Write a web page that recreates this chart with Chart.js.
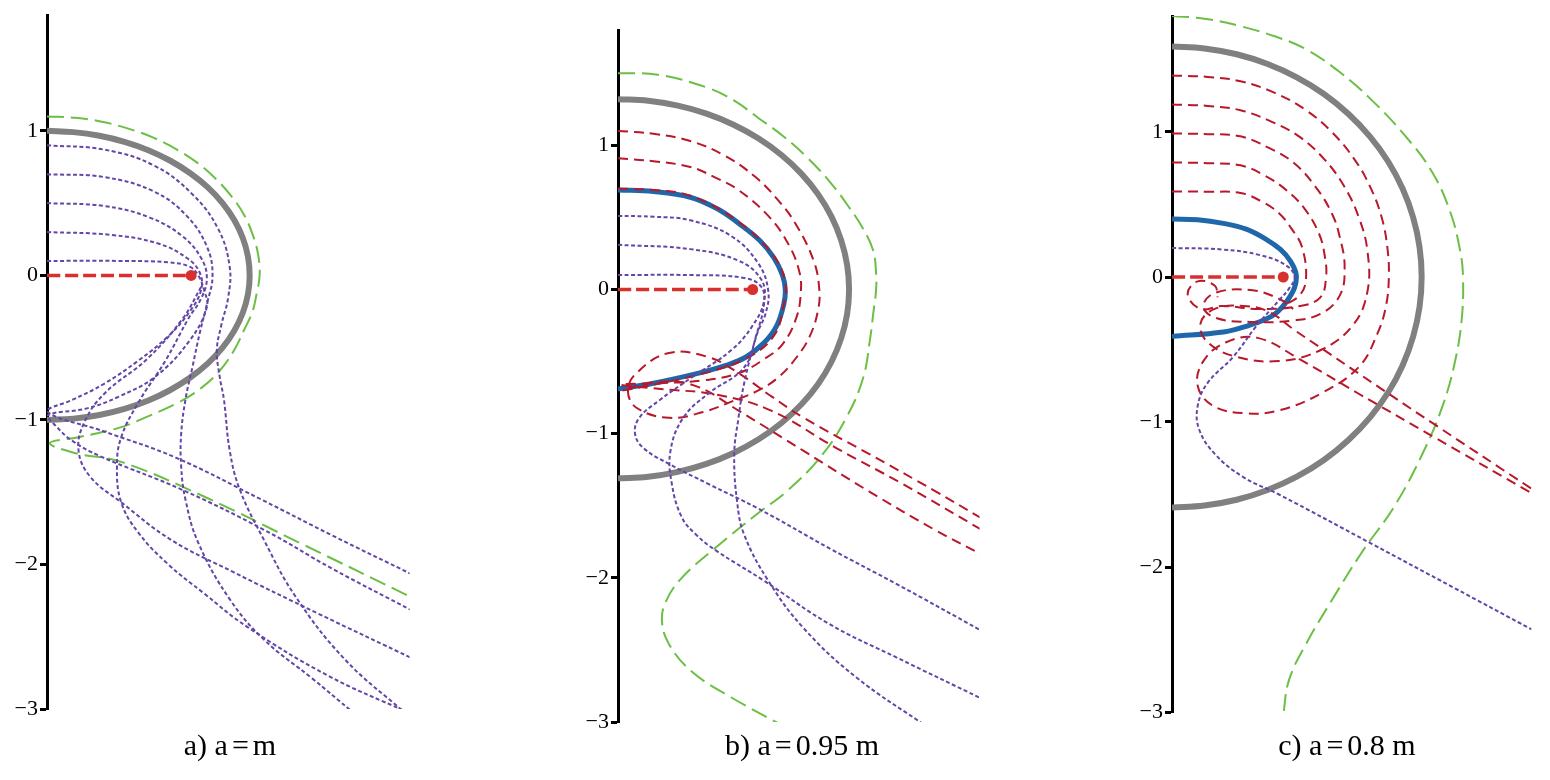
<!DOCTYPE html>
<html>
<head>
<meta charset="utf-8">
<script src="https://cdn.jsdelivr.net/npm/chart.js@4.4.1/dist/chart.umd.min.js"></script>
<style>
body { margin: 0; background: #fff; width: 1550px; height: 780px; position: relative; overflow: hidden; }
canvas { position: absolute; top: 0; }
.cap { position: absolute; top: 728px; font-family: "Liberation Serif", serif; font-size: 30px; color: #000; transform: translateX(-50%); white-space: nowrap; }
.cap .eq { margin: 0 4px; }
</style>
</head>
<body>
<canvas id="pa" width="415" height="740" style="left:0px"></canvas>
<canvas id="pb" width="414" height="740" style="left:571px"></canvas>
<canvas id="pc" width="412" height="740" style="left:1125px"></canvas>
<div class="cap" style="left:230px">a) a<span class="eq">=</span>m</div>
<div class="cap" style="left:802px">b) a<span class="eq">=</span>0.95 m</div>
<div class="cap" style="left:1347px">c) a<span class="eq">=</span>0.8 m</div>
<script>
// ticks de l'axe vertical (communs aux trois panneaux)
const yTicks = [1, 0, -1, -2, -3];

// ---- panneau a) a=m ----
const aGray = [[0,1.0],[0.185,0.991],[0.367,0.966],[0.543,0.924],[0.71,0.866],[0.864,0.793],[1.004,0.707],[1.127,0.609],[1.23,0.5],[1.312,0.383],[1.372,0.259],[1.408,0.131],[1.42,0],[1.408,-0.131],[1.372,-0.259],[1.312,-0.383],[1.23,-0.5],[1.127,-0.609],[1.004,-0.707],[0.864,-0.793],[0.71,-0.866],[0.543,-0.924],[0.367,-0.966],[0.185,-0.991],[0,-1.0]];
const aGreen = [[0,1.10],[0.2,1.09],[0.385,1.063],[0.57,1.015],[0.745,0.953],[0.91,0.87],[1.054,0.778],[1.18,0.67],[1.29,0.55],[1.38,0.42],[1.44,0.285],[1.48,0.14],[1.49,0],[1.47,-0.12],[1.44,-0.25],[1.38,-0.38],[1.31,-0.52],[1.21,-0.66],[1.08,-0.78],[0.92,-0.88],[0.72,-0.97],[0.52,-1.05],[0.22,-1.12],[0.02,-1.16],[0.2,-1.23],[0.52,-1.29],[1.10,-1.53],[1.79,-1.86],[2.56,-2.23]];
const aRedLine = [[0,0],[1.01,0]];
const aDot = [[1.01,0]];
const aPurple1 = [[0,0.9],[0.4,0.87],[0.75,0.76],[1.02,0.56],[1.2,0.32],[1.28,0.06],[1.27,-0.15],[1.22,-0.35],[1.19,-0.52],[1.21,-0.7],[1.24,-0.86],[1.28,-1.21],[1.35,-1.48],[1.52,-1.83],[1.74,-2.22],[2.09,-2.66],[2.5,-3.02]];
const aPurple2 = [[0,0.7],[0.4,0.68],[0.75,0.58],[0.98,0.41],[1.12,0.2],[1.16,0.0],[1.12,-0.2],[1.07,-0.4],[1.02,-0.63],[0.97,-0.86],[0.94,-1.1],[0.94,-1.32],[0.97,-1.55],[1.06,-1.85],[1.28,-2.24],[1.52,-2.52],[1.86,-2.79],[2.14,-3.02]];
const aPurple3 = [[0,0.5],[0.4,0.48],[0.72,0.4],[0.95,0.27],[1.08,0.12],[1.12,-0.02],[1.08,-0.16],[0.99,-0.3],[0.83,-0.59],[0.64,-0.88],[0.52,-1.12],[0.49,-1.32],[0.52,-1.57],[0.64,-1.78],[0.85,-2.0],[1.1,-2.2],[1.40,-2.43],[1.97,-2.77],[2.52,-3.02]];
const aPurple4 = [[0,0.3],[0.45,0.28],[0.78,0.22],[0.98,0.12],[1.07,0.02],[1.08,-0.1],[1.0,-0.25],[0.85,-0.42],[0.64,-0.59],[0.4,-0.75],[0.18,-0.86],[0,-0.94],[0.4,-1.08],[0.9,-1.26],[1.5,-1.55],[2.0,-1.80],[2.56,-2.07]];
const aPurple5 = [[0,0.1],[0.5,0.1],[0.85,0.09],[1.0,0.06],[1.06,0.0],[1.1,-0.1],[1.12,-0.22],[1.0,-0.45],[0.76,-0.70],[0.5,-0.84],[0.28,-0.92],[0,-0.97],[0.06,-1.04],[0.17,-1.14],[0.37,-1.25],[0.94,-1.48],[1.52,-1.76],[2.0,-2.03],[2.56,-2.32]];
const aPurple6 = [[1.08,-0.08],[0.95,-0.3],[0.7,-0.58],[0.41,-0.81],[0.27,-1.0],[0.22,-1.2],[0.30,-1.39],[0.52,-1.57],[0.87,-1.83],[1.3,-2.05],[1.9,-2.34],[2.56,-2.65]];

// ---- panneau b) a=0.95 m ----
const bGray = [[0,1.32],[0.213,1.309],[0.422,1.275],[0.624,1.22],[0.815,1.143],[0.992,1.047],[1.153,0.933],[1.293,0.804],[1.412,0.66],[1.506,0.505],[1.574,0.342],[1.616,0.172],[1.63,0],[1.616,-0.171],[1.574,-0.339],[1.506,-0.501],[1.412,-0.655],[1.293,-0.798],[1.153,-0.926],[0.992,-1.039],[0.815,-1.134],[0.624,-1.21],[0.422,-1.265],[0.213,-1.299],[0,-1.31]];
const bGreen = [[0,1.50],[0.28,1.49],[0.63,1.40],[0.82,1.31],[0.99,1.19],[1.17,1.06],[1.33,0.92],[1.50,0.74],[1.63,0.57],[1.73,0.42],[1.80,0.27],[1.82,0.12],[1.82,-0.01],[1.80,-0.17],[1.78,-0.33],[1.73,-0.61],[1.61,-0.89],[1.43,-1.16],[1.19,-1.40],[0.99,-1.55],[0.69,-1.79],[0.45,-2.0],[0.34,-2.16],[0.31,-2.30],[0.36,-2.46],[0.52,-2.65],[0.80,-2.83],[1.17,-3.03]];
const bBlue = [[0,0.69],[0.25,0.68],[0.51,0.64],[0.7,0.56],[0.85,0.46],[1.0,0.34],[1.10,0.22],[1.16,0.1],[1.18,0.0],[1.17,-0.1],[1.12,-0.25],[1.03,-0.37],[0.90,-0.47],[0.75,-0.53],[0.57,-0.58],[0.25,-0.65],[0,-0.69]];
const bRedLine = [[0,0],[0.95,0]];
const bDot = [[0.95,0]];
const bRed1 = [[0,1.10],[0.25,1.08],[0.51,1.03],[0.75,0.93],[0.97,0.78],[1.12,0.63],[1.25,0.46],[1.38,0.2],[1.42,0.0],[1.41,-0.15],[1.35,-0.33],[1.26,-0.47],[1.13,-0.61],[0.99,-0.70],[0.82,-0.77],[0.6,-0.85],[0.36,-0.89],[0.13,-0.82],[0.07,-0.70],[0.13,-0.58],[0.36,-0.44],[0.64,-0.47],[0.85,-0.58],[1.08,-0.74],[1.31,-0.89],[1.77,-1.14],[2.24,-1.40],[2.57,-1.59]];
const bRed2 = [[0,0.91],[0.25,0.89],[0.51,0.85],[0.68,0.78],[0.85,0.69],[1.07,0.5],[1.21,0.30],[1.28,0.12],[1.29,-0.01],[1.26,-0.19],[1.16,-0.38],[1.02,-0.49],[0.85,-0.58],[0.6,-0.63],[0.3,-0.65],[0.02,-0.66],[0.3,-0.69],[0.7,-0.73],[1.08,-0.84],[1.54,-1.10],[2.01,-1.35],[2.57,-1.67]];
const bRed3 = [[0,0.70],[0.25,0.69],[0.51,0.65],[0.85,0.47],[1.10,0.23],[1.18,0.05],[1.17,-0.1],[1.10,-0.32],[0.90,-0.48],[0.57,-0.59],[0.25,-0.66],[0.03,-0.70],[0.3,-0.64],[0.55,-0.67],[0.85,-0.84],[1.31,-1.12],[1.77,-1.40],[2.24,-1.67],[2.57,-1.84]];
const bPurple1 = [[0,0.51],[0.25,0.505],[0.51,0.48],[0.80,0.37],[0.99,0.18],[1.06,-0.01],[1.04,-0.17],[0.98,-0.31],[0.89,-0.65],[0.85,-0.89],[0.82,-1.14],[0.84,-1.47],[0.89,-1.70],[1.06,-2.02],[1.31,-2.35],[1.68,-2.69],[2.19,-3.04]];
const bPurple2 = [[0,0.31],[0.51,0.28],[0.85,0.20],[1.01,0.07],[1.03,-0.08],[0.95,-0.25],[0.80,-0.42],[0.52,-0.61],[0.29,-0.77],[0.15,-0.89],[0.12,-1.0],[0.18,-1.1],[0.36,-1.21],[0.64,-1.35],[0.99,-1.52],[1.50,-1.80],[1.96,-2.04],[2.57,-2.37]];
const bPurple3 = [[0,0.10],[0.52,0.10],[0.89,0.08],[1.01,0.02],[1.03,-0.1],[0.98,-0.3],[0.89,-0.54],[0.64,-0.72],[0.46,-0.89],[0.37,-1.12],[0.38,-1.35],[0.45,-1.58],[0.55,-1.70],[0.69,-1.81],[1.03,-2.02],[1.49,-2.32],[1.96,-2.55],[2.57,-2.84]];

// ---- panneau c) a=0.8 m ----
const cGray = [[0,1.59],[0.228,1.576],[0.453,1.536],[0.67,1.469],[0.875,1.377],[1.065,1.262],[1.237,1.124],[1.388,0.968],[1.516,0.795],[1.617,0.608],[1.69,0.412],[1.735,0.208],[1.75,0],[1.735,-0.208],[1.69,-0.412],[1.617,-0.608],[1.516,-0.795],[1.388,-0.968],[1.237,-1.124],[1.065,-1.262],[0.875,-1.377],[0.67,-1.469],[0.453,-1.536],[0.228,-1.576],[0,-1.59]];
const cGreen = [[0,1.80],[0.24,1.78],[0.48,1.73],[0.72,1.66],[0.94,1.57],[1.18,1.41],[1.4,1.22],[1.62,0.99],[1.82,0.73],[1.95,0.45],[2.02,0.18],[2.04,0.0],[2.03,-0.3],[1.98,-0.6],[1.90,-0.88],[1.77,-1.19],[1.56,-1.58],[1.33,-1.90],[1.12,-2.23],[0.94,-2.53],[0.82,-2.78],[0.78,-3.02]];
const cBlue = [[0,0.40],[0.18,0.395],[0.36,0.37],[0.52,0.33],[0.66,0.26],[0.76,0.19],[0.83,0.11],[0.87,0.02],[0.86,-0.07],[0.81,-0.16],[0.74,-0.24],[0.66,-0.29],[0.52,-0.34],[0.36,-0.38],[0,-0.41]];
const cRedLine = [[0,0],[0.78,0]];
const cDot = [[0.78,0]];
const cPurple = [[0,0.2],[0.35,0.19],[0.62,0.15],[0.80,0.08],[0.86,0.0],[0.82,-0.08],[0.76,-0.15],[0.59,-0.34],[0.43,-0.55],[0.25,-0.73],[0.18,-0.89],[0.19,-1.05],[0.3,-1.22],[0.5,-1.38],[0.75,-1.50],[1.40,-1.84],[1.97,-2.14],[2.52,-2.43]];
const cRed1 = [[0,1.39],[0.25,1.38],[0.48,1.35],[0.72,1.27],[0.94,1.15],[1.12,1.0],[1.28,0.81],[1.39,0.62],[1.47,0.41],[1.51,0.2],[1.52,0.0],[1.50,-0.2],[1.44,-0.39],[1.31,-0.62],[1.05,-0.80],[0.75,-0.92],[0.52,-0.94],[0.29,-0.89],[0.18,-0.75],[0.22,-0.58],[0.38,-0.45],[0.6,-0.42],[0.9,-0.57],[1.3,-0.80],[1.83,-1.10],[2.52,-1.49]];
const cRed2 = [[0,1.19],[0.25,1.18],[0.48,1.15],[0.70,1.07],[0.89,0.97],[1.07,0.81],[1.21,0.62],[1.31,0.41],[1.37,0.18],[1.37,-0.1],[1.27,-0.33],[1.05,-0.5],[0.75,-0.58],[0.45,-0.55],[0.25,-0.45],[0.2,-0.32],[0.3,-0.22],[0.5,-0.2],[0.68,-0.24],[0.85,-0.36],[1.03,-0.48],[1.3,-0.66],[1.83,-1.01],[2.52,-1.46]];
const cRed3 = [[0,0.99],[0.25,0.985],[0.48,0.97],[0.68,0.89],[0.85,0.79],[1.0,0.63],[1.12,0.44],[1.18,0.26],[1.21,0.07],[1.18,-0.12],[1.05,-0.25],[0.85,-0.3],[0.55,-0.31],[0.3,-0.28],[0.22,-0.2],[0.3,-0.11],[0.55,-0.09],[0.75,-0.15],[0.85,-0.22]];
const cRed4 = [[0,0.79],[0.25,0.785],[0.48,0.77],[0.65,0.70],[0.80,0.60],[0.93,0.47],[1.03,0.30],[1.07,0.15],[1.08,0.0],[1.04,-0.14],[0.9,-0.2],[0.6,-0.22],[0.35,-0.2],[0.2,-0.22],[0.11,-0.12],[0.18,-0.03],[0.3,-0.06],[0.32,-0.14]];
const cRed5 = [[0,0.59],[0.25,0.588],[0.48,0.58],[0.63,0.52],[0.75,0.44],[0.84,0.33],[0.91,0.21],[0.94,0.0],[0.9,-0.12],[0.78,-0.2]];

const GRAY = '#808080', GREEN = '#6cbf45', BLUE = '#1f67a8', RED = '#d7302f', DRED = '#b8182a', PURPLE = '#6446a6';

const toXY = arr => arr.map(p => ({x: p[0], y: p[1]}));

function courbe(data, color, width, dash) {
    return {
        data: toXY(data),
        showLine: true,
        borderColor: color,
        borderWidth: width,
        borderDash: dash,
        pointRadius: 0,
        tension: 0.4,
        fill: false
    };
}

function point(data) {
    return { data: toXY(data), showLine: false, pointRadius: 5.5, backgroundColor: RED, borderWidth: 0 };
}

const dashPurple = [4, 2.5], dashRed = [10, 6], dashGreen = [17, 7], dashThick = [13, 5];

// Fonction pour construire un panneau
function panneau(id, xMax, pad, datasets) {
    new Chart(document.getElementById(id), {
        type: 'scatter',
        data: { datasets: datasets },
        options: {
            responsive: false,
            animation: false,
            devicePixelRatio: 1,
            layout: { padding: pad },
            plugins: { legend: { display: false }, tooltip: { enabled: false } },
            scales: {
                x: { type: 'linear', display: false, min: 0, max: xMax },
                y: {
                    type: 'linear', min: -3, max: 1.8,
                    afterBuildTicks: s => { s.ticks = yTicks.map(v => ({ value: v })); },
                    afterFit: s => { s.width = 47; },
                    border: { display: true, color: '#000', width: 3 },
                    grid: { drawOnChartArea: false, drawTicks: true, tickLength: 7, tickWidth: 3, tickColor: '#000' },
                    ticks: {
                        color: '#000', padding: 2,
                        font: { family: 'Liberation Serif', size: 22 },
                        callback: v => v < 0 ? '\u2212' + Math.abs(v) : String(v)
                    }
                }
            }
        }
    });
}

panneau('pa', 2.54, { top: 14, bottom: 31, left: 0, right: 0 }, [
    point(aDot),
    courbe(aRedLine, RED, 3.5, dashThick),
    courbe(aPurple1, PURPLE, 2, dashPurple),
    courbe(aPurple2, PURPLE, 2, dashPurple),
    courbe(aPurple3, PURPLE, 2, dashPurple),
    courbe(aPurple4, PURPLE, 2, dashPurple),
    courbe(aPurple5, PURPLE, 2, dashPurple),
    courbe(aPurple6, PURPLE, 2, dashPurple),
    courbe(aGray, GRAY, 6, []),
    courbe(aGreen, GREEN, 2, dashGreen)
]);

panneau('pb', 2.55, { top: 30, bottom: 18, left: 0, right: 0 }, [
    point(bDot),
    courbe(bRedLine, RED, 3.5, dashThick),
    courbe(bPurple1, PURPLE, 2, dashPurple),
    courbe(bPurple2, PURPLE, 2, dashPurple),
    courbe(bPurple3, PURPLE, 2, dashPurple),
    courbe(bRed1, DRED, 2, dashRed),
    courbe(bRed2, DRED, 2, dashRed),
    courbe(bRed3, DRED, 2, dashRed),
    courbe(bBlue, BLUE, 5, []),
    courbe(bGray, GRAY, 6, []),
    courbe(bGreen, GREEN, 2, dashGreen)
]);

panneau('pc', 2.52, { top: 16, bottom: 28, left: 0, right: 0 }, [
    point(cDot),
    courbe(cRedLine, RED, 3.5, dashThick),
    courbe(cPurple, PURPLE, 2, dashPurple),
    courbe(cRed1, DRED, 2, dashRed),
    courbe(cRed2, DRED, 2, dashRed),
    courbe(cRed3, DRED, 2, dashRed),
    courbe(cRed4, DRED, 2, dashRed),
    courbe(cRed5, DRED, 2, dashRed),
    courbe(cBlue, BLUE, 5, []),
    courbe(cGray, GRAY, 6, []),
    courbe(cGreen, GREEN, 2, dashGreen)
]);
</script>
</body>
</html>
